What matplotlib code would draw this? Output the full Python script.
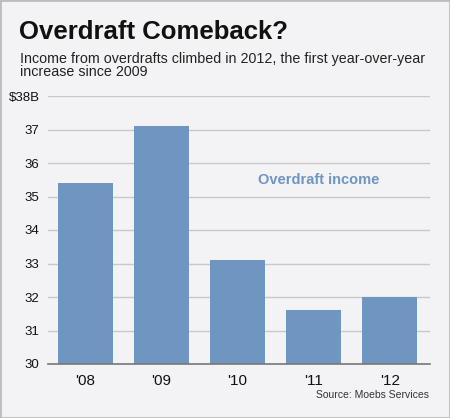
import matplotlib.pyplot as plt
from matplotlib.patches import Rectangle

# data
years = ["'08", "'09", "'10", "'11", "'12"]
income = [35.4, 37.1, 33.1, 31.6, 32.0]
yticks = [30, 31, 32, 33, 34, 35, 36, 37, 38]
ytick_labels = ["30", "31", "32", "33", "34", "35", "36", "37", "$38B"]

plt.rcParams['font.family'] = ['Liberation Sans', 'DejaVu Sans']

bg = "#f3f3f5"
bar_color = "#6f95c1"

fig = plt.figure(figsize=(4.5, 4.18), dpi=100, facecolor=bg)
fig.patches.append(Rectangle((0, 0), 1, 1, transform=fig.transFigure,
                             fill=False, edgecolor="#bdbdbd", linewidth=2))

W, H = 450, 418
ax = fig.add_axes([48 / W, 1 - 364 / H, (430 - 48) / W, (364 - 96) / H])
ax.set_facecolor(bg)

x = range(len(years))
ax.bar(x, income, width=0.72, color=bar_color, zorder=3)
ax.set_xlim(-0.49, 4.53)
ax.set_ylim(30, 38)

ax.set_yticks(yticks)
ax.set_yticklabels(ytick_labels)
ax.set_xticks(list(x))
ax.set_xticklabels(years)
ax.grid(axis="y", color="#c9c9cc", linewidth=1, zorder=0)
ax.tick_params(axis="y", length=0, pad=6, labelsize=9.5, labelcolor="#111111")
ax.tick_params(axis="x", length=0, pad=7, labelsize=11, labelcolor="#111111")
for s in ["top", "right", "left"]:
    ax.spines[s].set_visible(False)
ax.spines["bottom"].set_color("#777777")
ax.spines["bottom"].set_linewidth(1.2)
ax.spines["bottom"].set_zorder(4)

ax.text(2.27, 35.5, "Overdraft income", color=bar_color, fontsize=10.5,
        fontweight="bold", va="center", ha="left")

fig.text(19 / W, 1 - 32 / H, "Overdraft Comeback?", fontsize=18.5,
         fontweight="bold", va="center", color="#111111")
fig.text(20 / W, 1 - 65.5 / H,
         "Income from overdrafts climbed in 2012, the first year-over-year\n"
         "increase since 2009", fontsize=10.3, va="center", color="#222222",
         linespacing=1.0)
fig.text(429 / W, 1 - 395 / H, "Source: Moebs Services", fontsize=7.5,
         ha="right", va="center", color="#333333")

fig.savefig("out.png", dpi=100, facecolor=bg)
